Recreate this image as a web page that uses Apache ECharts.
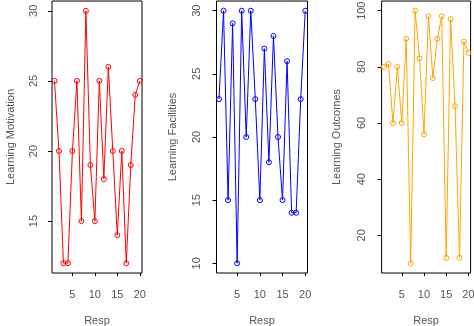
<!DOCTYPE html>
<html>
<head>
<meta charset="utf-8">
<script src="https://cdn.jsdelivr.net/npm/echarts@6/dist/echarts.min.js"></script>
<style>html,body{margin:0;padding:0;background:#fff}#c{width:474px;height:326px}</style>
</head>
<body>
<div id="c"></div>
<script>
const resp = [1,2,3,4,5,6,7,8,9,10,11,12,13,14,15,16,17,18,19,20];
const motivation = [25,20,12,12,20,25,15,30,19,15,25,18,26,20,14,20,12,19,24,25];
const facilities = [23,30,15,29,10,30,20,30,23,15,27,18,28,20,15,26,14,14,23,30];
const outcomes = [80,81,60,80,60,90,10,100,83,56,98,76,90,98,12,97,66,12,89,85];
const xTicks = [5,10,15,20];
const motivationTicks = [15,20,25,30];
const facilitiesTicks = [10,15,20,25,30];
const outcomesTicks = [20,40,60,80,100];
const names = ['Learning Motivation','Learning Facilities','Learning Outcomes'];
const colors = ['#ff0000','#0000ff','#ffa500'];

const grids = [
  {left:52, width:90},
  {left:216.5, width:91},
  {left:381.6, width:89}
];
const yRanges = [[11.3,30.7],[9.23,30.77],[6.57,103.45]];
const yTicks = [motivationTicks, facilitiesTicks, outcomesTicks];
const seriesData = [motivation, facilities, outcomes];
const nameGaps = [36, 38, 39];
const labelMargins = [13, 14, 14];
const txt = '#555';
const font = 'Liberation Sans, Arial, sans-serif';

const option = {
  animation:false,
  grid: grids.map(g => ({left:g.left, width:g.width, top:1, bottom:53, outerBoundsMode:'none', containLabel:false, show:true, borderColor:'#000', borderWidth:1, backgroundColor:'transparent'})),
  xAxis: grids.map((g,i) => ({
    type:'value', gridIndex:i, min:0.45, max:20.5,
    name:'Resp', nameLocation:'middle', nameGap:42,
    nameTextStyle:{color:txt, fontSize:11, fontFamily:font},
    axisLine:{show:false}, splitLine:{show:false},
    axisTick:{show:true, inside:false, length:3, lineStyle:{color:'#000'}, customValues:xTicks},
    axisLabel:{color:txt, fontSize:11, fontFamily:font, margin:16, customValues:xTicks}
  })),
  yAxis: grids.map((g,i) => ({
    type:'value', gridIndex:i, min:yRanges[i][0], max:yRanges[i][1],
    name:names[i], nameLocation:'middle', nameGap:nameGaps[i], nameRotate:90,
    nameTextStyle:{color:txt, fontSize:11, fontFamily:font},
    axisLine:{show:false}, splitLine:{show:false},
    axisTick:{show:true, inside:false, length:4, lineStyle:{color:'#000'}, customValues:yTicks[i]},
    axisLabel:{color:txt, fontSize:11, fontFamily:font, rotate:90, margin:labelMargins[i], customValues:yTicks[i]}
  })),
  series: seriesData.map((d,i) => ({
    type:'line', xAxisIndex:i, yAxisIndex:i,
    data: resp.map((x,k) => [x, d[k]]),
    symbol:'circle', symbolSize:5, showAllSymbol:true,
    lineStyle:{color:colors[i], width:1},
    itemStyle:{color:'rgba(0,0,0,0)', borderColor:colors[i], borderWidth:1}
  }))
};
const chart = echarts.init(document.getElementById('c'), null, {renderer:'canvas'});
chart.setOption(option);
</script>
</body>
</html>
